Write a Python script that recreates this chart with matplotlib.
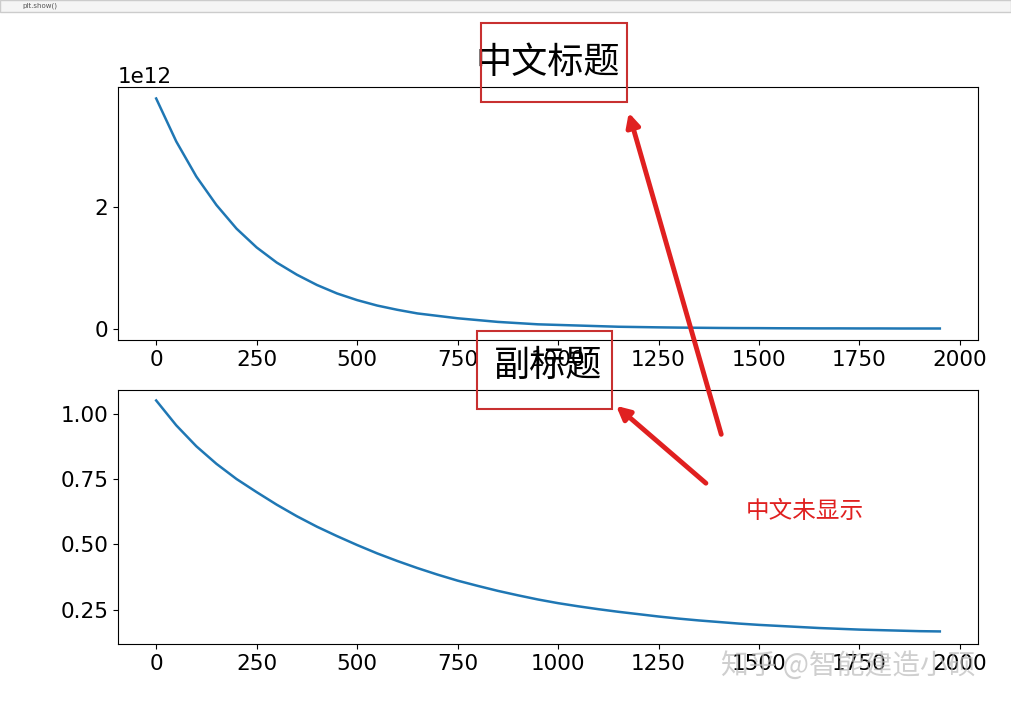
import matplotlib.pyplot as plt
from matplotlib.patches import Rectangle, FancyArrowPatch

# 数据
x = list(range(0, 2000, 50))
loss = [3.8, 3.09, 2.51, 2.04, 1.65, 1.34, 1.09, 0.89, 0.72, 0.58,
        0.47, 0.38, 0.31, 0.25, 0.21, 0.17, 0.14, 0.11, 0.09, 0.07,
        0.06, 0.05, 0.04, 0.03, 0.025, 0.02, 0.016, 0.013, 0.01, 0.008,
        0.007, 0.005, 0.004, 0.003, 0.003, 0.002, 0.002, 0.001, 0.001, 0.001]
loss = [v * 1e12 for v in loss]
lr = [1.05, 0.955, 0.875, 0.808, 0.75, 0.70, 0.652, 0.608, 0.568, 0.532,
      0.498, 0.466, 0.437, 0.41, 0.385, 0.362, 0.342, 0.323, 0.306, 0.29,
      0.276, 0.264, 0.253, 0.243, 0.234, 0.225, 0.217, 0.21, 0.204, 0.198,
      0.193, 0.189, 0.185, 0.181, 0.178, 0.175, 0.173, 0.171, 0.169, 0.168]
titles = ["中文标题", "副标题"]

cjk = ['Noto Sans CJK SC', 'DejaVu Sans']

fig = plt.figure(figsize=(10.11, 7.1), dpi=100)
W, H = 1011, 710

# 顶部代码块灰条
fig.patches.append(Rectangle((0, 1 - 12 / H), 1, 12 / H, transform=fig.transFigure,
                             facecolor='#f5f5f5', edgecolor='#cccccc', lw=1))
fig.text(22 / W, 1 - 6 / H, "plt.show()", fontsize=5, va='center', color='#555555')

ax1 = fig.add_axes([118 / W, 1 - 340 / H, 860 / W, 253 / H])
ax2 = fig.add_axes([118 / W, 1 - 644 / H, 860 / W, 254 / H])

ax1.plot(x, loss, color='#1f77b4', lw=1.8)
ax2.plot(x, lr, color='#1f77b4', lw=1.8)
ax1.set_yticks([0, 2e12])
ax2.set_yticks([0.25, 0.5, 0.75, 1.0])
for ax, t in zip([ax1, ax2], titles):
    ax.set_xticks([0, 250, 500, 750, 1000, 1250, 1500, 1750, 2000])
    ax.tick_params(labelsize=15.5)
    ax.set_xlim(-95, 2045)
    ax.set_title(t, fontsize=26, family=cjk, pad=10)
ax1.yaxis.get_offset_text().set_fontsize(15.5)
ax2.set_ylim(0.12, 1.09)


def px(xp, yp):
    return (xp / W, 1 - yp / H)


red = '#e02020'
for (x0, y0, x1, y1) in [(481, 23, 627, 102), (477, 331, 612, 409)]:
    fig.patches.append(Rectangle(px(x0, y1), (x1 - x0) / W, (y1 - y0) / H,
                                 transform=fig.transFigure, fill=False,
                                 edgecolor='#c83030', lw=1.5))
for (s, e) in [((722, 437), (628, 110)), ((708, 485), (614, 404))]:
    fig.patches.append(FancyArrowPatch(px(*s), px(*e), transform=fig.transFigure,
                                       arrowstyle='-|>,head_length=8,head_width=4',
                                       color=red, lw=3.5))
fig.text(*px(805, 512), "中文未显示", color=red, fontsize=17, ha='center', va='center',
         family=cjk)
fig.text(*px(848, 666), "知乎 @智能建造小硕", color='#bbbbbb', alpha=0.7, fontsize=20,
         ha='center', va='center', family=cjk)

fig.savefig('out.png', dpi=100)
